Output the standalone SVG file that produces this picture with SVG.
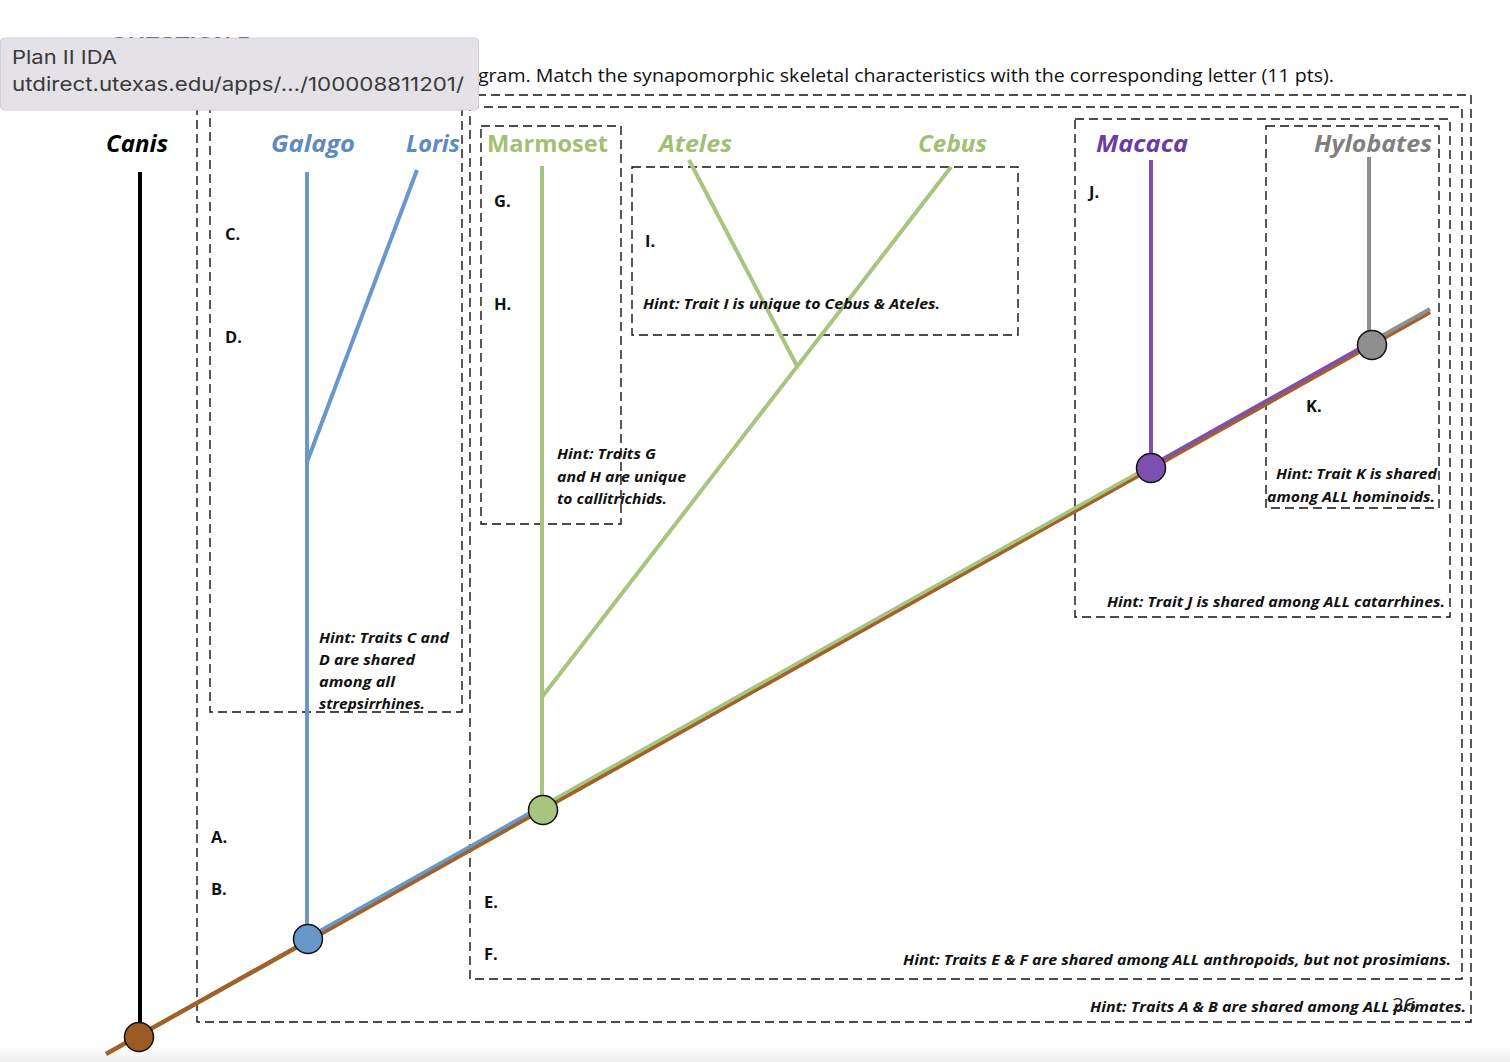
<svg xmlns="http://www.w3.org/2000/svg" width="1510" height="1062" viewBox="0 0 1510 1062">
<defs>
<style>
.box{fill:none;stroke:#111;stroke-width:1.4;stroke-dasharray:9 5}
.taxon{font-family:"Open Sans","Noto Sans",sans-serif;font-weight:700;font-style:italic;font-size:24px}
.let{font-family:"Open Sans","Noto Sans",sans-serif;font-weight:700;font-size:16.5px;fill:#111}
.hint{font-family:"Open Sans","Noto Sans",sans-serif;font-weight:700;font-style:italic;font-size:14.5px;fill:#111}
.node{stroke:#111;stroke-width:1.5}
.br{fill:none;stroke-linecap:butt}
.tip{font-family:Inter,"Open Sans",sans-serif;font-size:19px;fill:#3a3a3a}
</style>
<linearGradient id="fade" x1="0" y1="0" x2="0" y2="1">
<stop offset="0" stop-color="#ffffff"/>
<stop offset="1" stop-color="#ececec"/>
</linearGradient>
</defs>
<rect x="0" y="0" width="1510" height="1062" fill="#ffffff"/>
<rect x="0" y="1048" width="1510" height="14" fill="url(#fade)"/>

<text x="110" y="50" font-family="'Liberation Sans',sans-serif" font-weight="700" font-size="19" textLength="140" lengthAdjust="spacingAndGlyphs" fill="#111">QUESTION 5</text>
<text x="478" y="82" font-family="'Open Sans',sans-serif" font-size="19" textLength="856" lengthAdjust="spacingAndGlyphs" fill="#111">gram. Match the synapomorphic skeletal characteristics with the corresponding letter (11 pts).</text>

<g id="boxes">
<rect id="box-primates" class="box" x="197" y="95" width="1274" height="927"/>
<rect id="box-anthropoids" class="box" x="470" y="107" width="992" height="872"/>
<rect id="box-strepsirrhines" class="box" x="210" y="107" width="252" height="605"/>
<rect id="box-callitrichids" class="box" x="481" y="126" width="140" height="398"/>
<rect id="box-cebus-ateles" class="box" x="632" y="167" width="386" height="168"/>
<rect id="box-catarrhines" class="box" x="1075" y="119" width="375" height="498"/>
<rect id="box-hominoids" class="box" x="1266" y="126" width="173" height="382"/>
</g>

<g id="connectors">
<line class="br" x1="140" y1="172" x2="140" y2="1037" stroke="#000" stroke-width="4"/>
<line class="br" x1="307" y1="172" x2="307" y2="939" stroke="#6A97C9" stroke-width="4"/>
<line class="br" x1="417" y1="170" x2="307" y2="462" stroke="#6A97C9" stroke-width="4"/>
<line class="br" x1="542" y1="166" x2="542" y2="810" stroke="#A9C47F" stroke-width="4"/>
<line class="br" x1="951" y1="167" x2="542" y2="697" stroke="#A9C47F" stroke-width="4"/>
<line class="br" x1="689" y1="160" x2="797" y2="366" stroke="#A9C47F" stroke-width="4"/>
<line class="br" x1="1151" y1="160" x2="1151" y2="468" stroke="#7E4EB0" stroke-width="4"/>
<line class="br" x1="1369" y1="157" x2="1369" y2="345" stroke="#8F8F8F" stroke-width="4"/>
<line class="br" x1="106" y1="1054" x2="1430" y2="312" stroke="#A0612B" stroke-width="4.5"/>
<line class="br" x1="307" y1="938" x2="542" y2="806" stroke="#6A97C9" stroke-width="3.5"/>
<line class="br" x1="542" y1="806" x2="1151" y2="465.5" stroke="#A9C47F" stroke-width="3.5"/>
<line class="br" x1="1151" y1="465.5" x2="1370" y2="342.5" stroke="#7E4EB0" stroke-width="3.5"/>
<line class="br" x1="1370" y1="342.5" x2="1430" y2="309" stroke="#8F8F8F" stroke-width="3.8"/>
</g>

<g id="node-root"><circle class="node" cx="139" cy="1037" r="14.5" fill="#9C5B22"/></g>
<g id="node-strepsirrhini"><circle class="node" cx="308" cy="939" r="14.5" fill="#6A97C9"/></g>
<g id="node-anthropoidea"><circle class="node" cx="543" cy="810" r="14.5" fill="#A9C47F"/></g>
<g id="node-catarrhini"><circle class="node" cx="1151" cy="468" r="14.5" fill="#7E4EB0"/></g>
<g id="node-hominoidea"><circle class="node" cx="1372" cy="345" r="14.5" fill="#8F8F8F"/></g>

<g id="taxa">
<text class="taxon" x="106" y="152" textLength="62" lengthAdjust="spacingAndGlyphs" fill="#000">Canis</text>
<text class="taxon" x="271" y="152" textLength="84" lengthAdjust="spacingAndGlyphs" fill="#5E8AC2">Galago</text>
<text class="taxon" x="406" y="152" textLength="54" lengthAdjust="spacingAndGlyphs" fill="#5E8AC2">Loris</text>
<text class="taxon" x="487" y="152" textLength="121" lengthAdjust="spacingAndGlyphs" fill="#A2BF74" style="font-style:normal">Marmoset</text>
<text class="taxon" x="659" y="152" textLength="73" lengthAdjust="spacingAndGlyphs" fill="#A2BF74">Ateles</text>
<text class="taxon" x="918" y="152" textLength="69" lengthAdjust="spacingAndGlyphs" fill="#A2BF74">Cebus</text>
<text class="taxon" x="1096" y="152" textLength="92" lengthAdjust="spacingAndGlyphs" fill="#6B3BA3">Macaca</text>
<text class="taxon" x="1314" y="152" textLength="118" lengthAdjust="spacingAndGlyphs" fill="#7F7F7F">Hylobates</text>
</g>

<g id="letters">
<text class="let" x="225" y="240">C.</text>
<text class="let" x="225" y="343">D.</text>
<text class="let" x="494" y="207">G.</text>
<text class="let" x="494" y="310">H.</text>
<text class="let" x="645" y="247">I.</text>
<text class="let" x="1089" y="198">J.</text>
<text class="let" x="1306" y="412">K.</text>
<text class="let" x="211" y="843">A.</text>
<text class="let" x="211" y="895">B.</text>
<text class="let" x="484" y="908">E.</text>
<text class="let" x="484" y="960">F.</text>
</g>

<g id="hints">
<text class="hint" x="319" y="643" textLength="130" lengthAdjust="spacingAndGlyphs">Hint: Traits C and</text>
<text class="hint" x="319" y="665" textLength="96" lengthAdjust="spacingAndGlyphs">D are shared</text>
<text class="hint" x="319" y="687" textLength="76" lengthAdjust="spacingAndGlyphs">among all</text>
<text class="hint" x="319" y="709" textLength="106" lengthAdjust="spacingAndGlyphs">strepsirrhines.</text>
<text class="hint" x="557" y="459" textLength="99" lengthAdjust="spacingAndGlyphs">Hint: Traits G</text>
<text class="hint" x="557" y="482" textLength="129" lengthAdjust="spacingAndGlyphs">and H are unique</text>
<text class="hint" x="557" y="504" textLength="110" lengthAdjust="spacingAndGlyphs">to callitrichids.</text>
<text class="hint" x="643" y="309" textLength="297" lengthAdjust="spacingAndGlyphs">Hint: Trait I is unique to Cebus &amp; Ateles.</text>
<text class="hint" x="1276" y="479" textLength="161" lengthAdjust="spacingAndGlyphs">Hint: Trait K is shared</text>
<text class="hint" x="1267" y="502" textLength="168" lengthAdjust="spacingAndGlyphs">among ALL hominoids.</text>
<text class="hint" x="1107" y="607" textLength="338" lengthAdjust="spacingAndGlyphs">Hint: Trait J is shared among ALL catarrhines.</text>
<text class="hint" x="903" y="965" textLength="548" lengthAdjust="spacingAndGlyphs">Hint: Traits E &amp; F are shared among ALL anthropoids, but not prosimians.</text>
<text class="hint" x="1090" y="1012" textLength="376" lengthAdjust="spacingAndGlyphs">Hint: Traits A &amp; B are shared among ALL primates.</text>
</g>
<text x="1392" y="1011" font-family="'Open Sans',sans-serif" font-size="19" textLength="24" lengthAdjust="spacingAndGlyphs" fill="#222">26</text>

<g id="tooltip">
<rect x="0.5" y="38" width="478" height="72" rx="4" fill="#E4E2E6" stroke="#d2d0d4" stroke-width="1"/>
<text class="tip" x="12" y="64" textLength="105" lengthAdjust="spacingAndGlyphs">Plan II IDA</text>
<text class="tip" x="12" y="91" textLength="452" lengthAdjust="spacingAndGlyphs">utdirect.utexas.edu/apps/…/100008811201/</text>
</g>
</svg>
